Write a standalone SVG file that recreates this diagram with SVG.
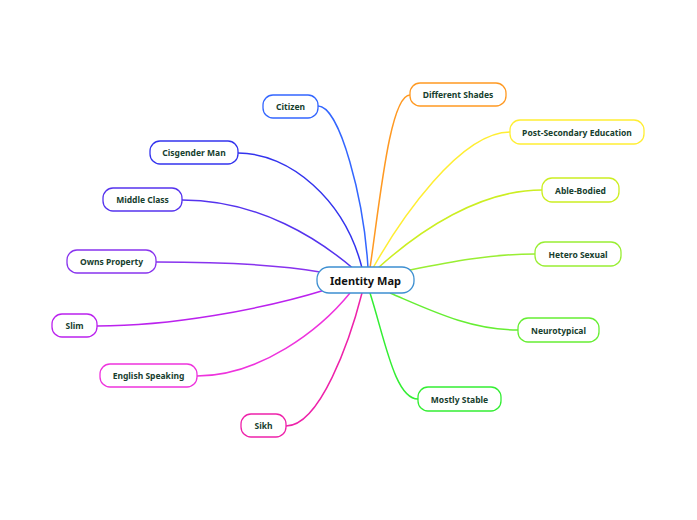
<svg xmlns="http://www.w3.org/2000/svg" width="697" height="520" viewBox="0 0 697 520">
<style>
.n rect{fill:#fff;stroke-width:1.3}
.n text{font-family:"Noto Sans","Open Sans",sans-serif;font-size:8.5px;font-weight:bold;fill:#17402e;text-anchor:middle;dominant-baseline:central}
#links path{fill:none;stroke-width:1.5}
</style>
<rect width="697" height="520" fill="#fff"/>
<g id="links">
<path d="M368 268 C364 200 340 106 318 106" stroke="#3366ff"/>
<path d="M362 268 C345 200 290 153 238 153" stroke="#3333ee"/>
<path d="M355 270 C320 240 260 200 182 200" stroke="#5533ee"/>
<path d="M320 272 C280 265 220 262 156 262" stroke="#8833ee"/>
<path d="M325 290 C260 310 170 326 97 326" stroke="#bb22ee"/>
<path d="M350 293 C320 330 260 376 197 376" stroke="#ee33dd"/>
<path d="M362 293 C350 340 320 426 286 426" stroke="#ee22aa"/>
<path d="M370 268 C380 200 390 95 410 95" stroke="#ff9922"/>
<path d="M373 268 C400 220 460 132 510 132" stroke="#ffee33"/>
<path d="M378 268 C420 230 480 190 542 190" stroke="#ccee22"/>
<path d="M410 270 C450 262 490 254 535 254" stroke="#99ee33"/>
<path d="M390 293 C430 310 470 330 518 330" stroke="#66ee33"/>
<path d="M370 293 C385 340 395 399 418 399" stroke="#33ee33"/>
</g>
<g id="center" class="n"><rect x="317" y="267" width="97" height="26" rx="12" stroke="#3d8fd1"/><text x="365.5" y="280" style="font-size:11px;fill:#111">Identity Map</text></g>
<g id="citizen" class="n"><rect x="263" y="95" width="55" height="23" rx="10" stroke="#3366ff"/><text x="290.5" y="106.5">Citizen</text></g>
<g id="cisgender" class="n"><rect x="150" y="141" width="88" height="23" rx="10" stroke="#3333ee"/><text x="194" y="152.5">Cisgender Man</text></g>
<g id="middle" class="n"><rect x="103" y="188" width="79" height="23" rx="10" stroke="#5533ee"/><text x="142.5" y="199.5">Middle Class</text></g>
<g id="owns" class="n"><rect x="67" y="250" width="89" height="23" rx="10" stroke="#8833ee"/><text x="111.5" y="261.5">Owns Property</text></g>
<g id="slim" class="n"><rect x="52" y="314" width="45" height="23" rx="10" stroke="#bb22ee"/><text x="74.5" y="325.5">Slim</text></g>
<g id="english" class="n"><rect x="100" y="364" width="97" height="23" rx="10" stroke="#ee33dd"/><text x="148.5" y="375.5">English Speaking</text></g>
<g id="sikh" class="n"><rect x="241" y="414" width="45" height="23" rx="10" stroke="#ee22aa"/><text x="263.5" y="425.5">Sikh</text></g>
<g id="shades" class="n"><rect x="410" y="83" width="96" height="23" rx="10" stroke="#ff9922"/><text x="458" y="94.5">Different Shades</text></g>
<g id="postsec" class="n"><rect x="510" y="120" width="134" height="24" rx="10" stroke="#ffee33"/><text x="577" y="132">Post-Secondary Education</text></g>
<g id="able" class="n"><rect x="542" y="178" width="77" height="24" rx="10" stroke="#ccee22"/><text x="580.5" y="190">Able-Bodied</text></g>
<g id="hetero" class="n"><rect x="535" y="242" width="86" height="24" rx="10" stroke="#99ee33"/><text x="578" y="254">Hetero Sexual</text></g>
<g id="neuro" class="n"><rect x="518" y="318" width="81" height="24" rx="10" stroke="#66ee33"/><text x="558.5" y="330">Neurotypical</text></g>
<g id="stable" class="n"><rect x="418" y="387" width="83" height="24" rx="10" stroke="#33ee33"/><text x="459.5" y="399">Mostly Stable</text></g>
</svg>
